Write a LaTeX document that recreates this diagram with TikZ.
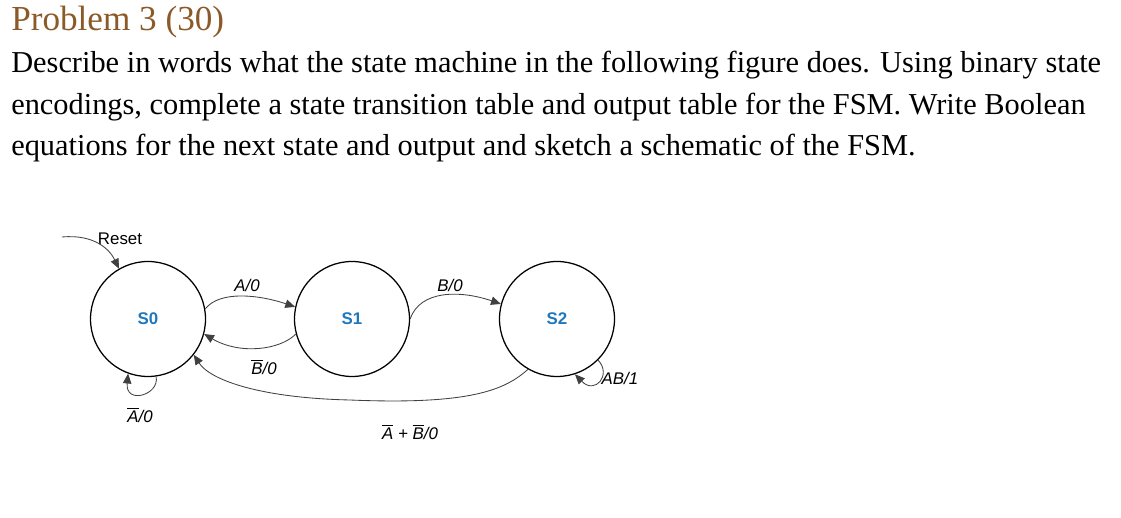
\documentclass[tikz,border=0pt]{standalone}
\usepackage{fontspec}
\setmainfont{Liberation Serif}
\newfontfamily\lsans{Liberation Sans}
\usetikzlibrary{arrows.meta}
\definecolor{titlebrown}{RGB}{140,90,40}
\definecolor{stblue}{RGB}{30,120,190}
\newcommand{\ovl}[1]{$\overline{\hbox{#1}}$}
\begin{document}
\begin{tikzpicture}[x=0.025cm,y=-0.025cm,
  st/.style={draw,circle,minimum size=115*0.025cm,inner sep=0,line width=0.9pt,font=\lsans\bfseries\fontsize{12}{14}\selectfont,text=stblue},
  lab/.style={font=\lsans\itshape\fontsize{12}{14}\selectfont,inner sep=1pt},
  tr/.style={draw=black!75,line width=0.6pt,-{Triangle[length=7pt,width=6pt]}},
  body/.style={anchor=west,inner sep=0,font=\fontsize{21.6}{25}\selectfont}]
\useasboundingbox (0,0) rectangle (1121,518);
\node[anchor=west,inner sep=0,text=titlebrown,font=\fontsize{25}{29}\selectfont] (title) at (11,22) {Problem 3 (30)};
\node[body] (l1) at (11,65) {Describe in words what the state machine in the following figure does. Using binary state};
\node[body] (l2) at (11,107) {encodings, complete a state transition table and output table for the FSM. Write Boolean};
\node[body] (l3) at (11,148) {equations for the next state and output and sketch a schematic of the FSM.};

\node[st] (s0) at (148,319) {S0};
\node[st] (s1) at (352,319) {S1};
\node[st] (s2) at (557,319) {S2};

\coordinate (rs) at (62,237);
\node[lab,font=\lsans\fontsize{12}{14}\selectfont] (reset) at (120,239) {Reset};
\draw[tr] (rs) .. controls (95,234) and (110,250) .. (s0.120);

\draw[tr] (s0.10) .. controls (220,290) and (260,295) .. (s1.168);
\node[lab] (la) at (247,285) {A/0};
\draw[tr] (s1.195) .. controls (280,350) and (240,355) .. (s0.-15);
\node[lab] (lb) at (264,367) {\ovl{B}/0};
\draw[tr] (s1.0) .. controls (420,290) and (460,290) .. (s2.165);
\node[lab] (lc) at (450,285) {B/0};
\draw[tr] (s2.240) .. controls (505,390) and (470,405) .. (350,400)
  .. controls (260,398) and (210,380) .. (s0.-38);
\node[lab] (ld) at (410,432) {\ovl{A} + \ovl{B}/0};

\draw[tr] (s0.-82) .. controls (160,395) and (125,405) .. (s0.-110);
\node[lab] (le) at (140,415) {\ovl{A}/0};
\draw[tr] (s2.-45) .. controls (612,375) and (595,395) .. (s2.-72);
\node[lab] (lf) at (620,378) {AB/1};
\end{tikzpicture}
\end{document}
